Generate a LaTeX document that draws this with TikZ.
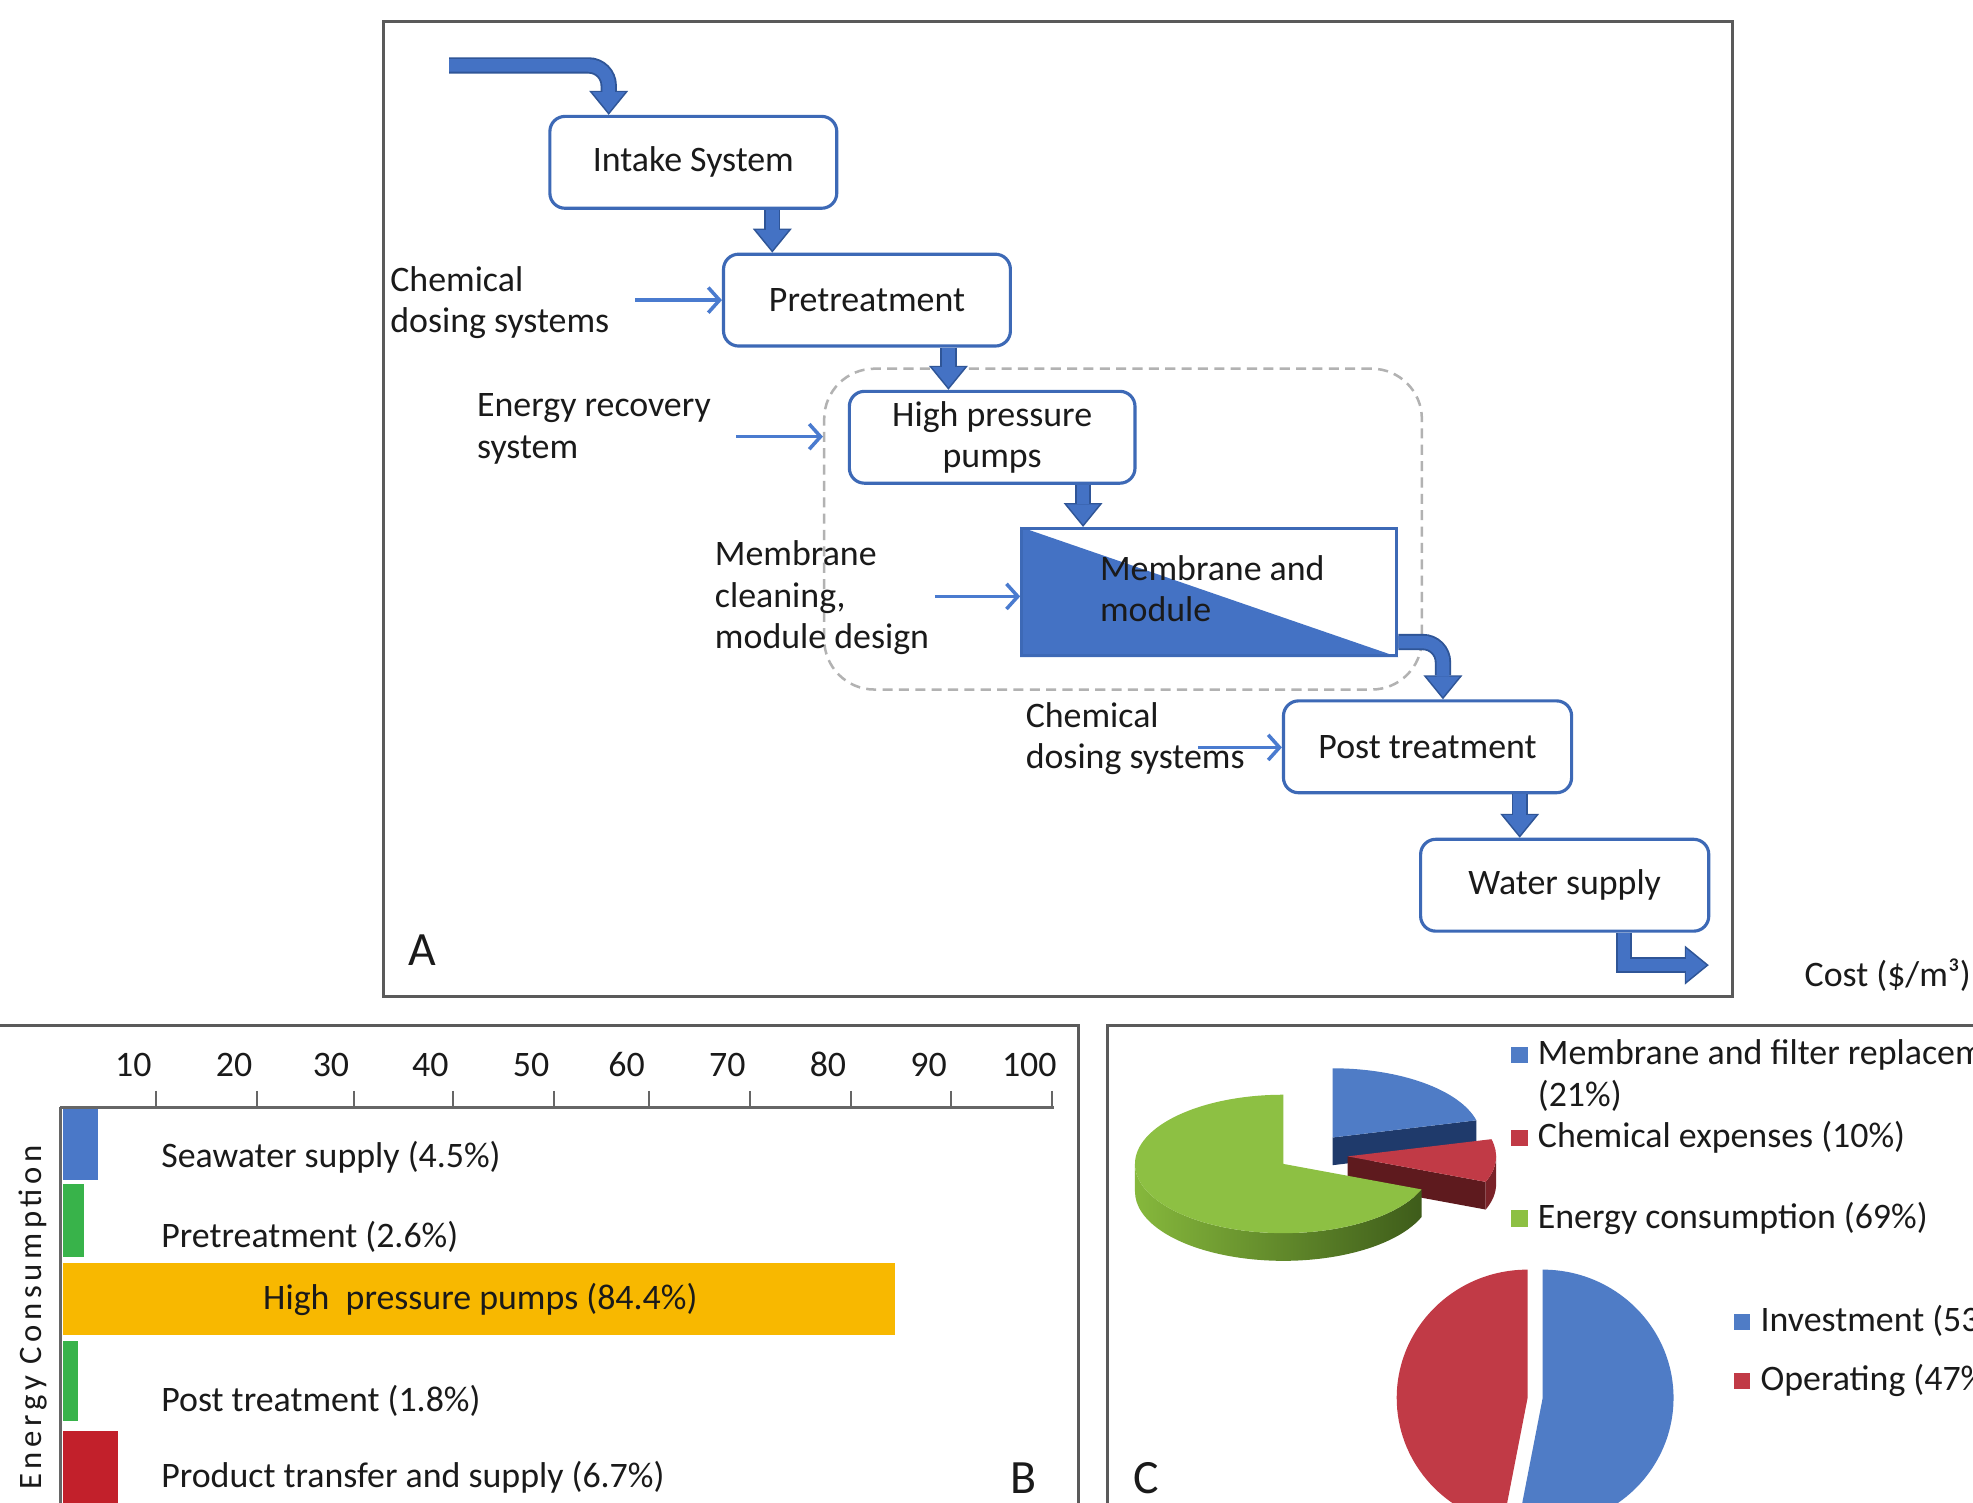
\documentclass[tikz,border=0pt]{standalone}
\usepackage{fontspec}
\setmainfont{Carlito}
\usetikzlibrary{arrows.meta,calc}
\definecolor{bx}{HTML}{3D69B6}
\definecolor{fa}{HTML}{4472C4}
\definecolor{fad}{HTML}{2F5597}
\definecolor{thinc}{HTML}{4A7BCF}
\definecolor{frm}{HTML}{5A5A5A}
\definecolor{txt}{HTML}{1A1A1A}
\definecolor{barblue}{HTML}{4A78C8}
\definecolor{bargreen}{HTML}{38B34A}
\definecolor{barorange}{HTML}{F8B800}
\definecolor{barred}{HTML}{C2202B}
\definecolor{pblue}{HTML}{4F7CC6}
\definecolor{pnavy}{HTML}{1F3A6B}
\definecolor{pred}{HTML}{C13A46}
\definecolor{pdred}{HTML}{5E1A1E}
\definecolor{pdred2}{HTML}{7A2228}
\definecolor{pgreen}{HTML}{8DC043}
\definecolor{pgreenL}{HTML}{86B83C}
\definecolor{pgreenD}{HTML}{3E5C1A}
\newcommand\fsz{\fontsize{28.5}{33}\selectfont}
\newcommand\fbig{\fontsize{38}{44}\selectfont}
\tikzset{
  fbox/.style={draw=bx, line width=2.5pt, rounded corners=12pt, minimum width=228pt,
    minimum height=73pt, align=center, font=\fsz, text=txt, inner sep=0pt},
  lbl/.style={anchor=west, align=left, font=\fsz, text=txt, inner sep=0pt},
  ctr/.style={font=\fsz, text=txt, inner sep=0pt},
  thinarr/.style={draw=thinc, line width=2.8pt, -{Straight Barb[length=9pt,width=20pt]}},
  fatout/.style={draw=fad, line width=13pt, -{Triangle[length=19pt,width=31pt,line width=0pt]}},
  fatin/.style={draw=fa, line width=10pt, shorten >=2pt, -{Triangle[length=16pt,width=26pt,line width=0pt]}},
  frame/.style={draw=frm, line width=2.5pt},
  axisl/.style={draw=gray!80!black, line width=2pt},
}
\newcommand\fatarr[2][]{\draw[fatout,#1] #2; \draw[fatin,#1] #2;}
\begin{document}
\begin{tikzpicture}[x=1pt,y=-1pt]
\useasboundingbox (0,0) rectangle (1568,1194);
\clip (0,0) rectangle (1568,1194);
\fill[white] (0,0) rectangle (1568,1194);

% ---------------- Panel A ----------------
\node[frame, minimum width=1072pt, minimum height=775pt, inner sep=0pt] (panelA) at (841,404.5) {};
\node[draw=gray!60, line width=2pt, dash pattern=on 8pt off 5pt, rounded corners=40pt,
  minimum width=475pt, minimum height=255pt, inner sep=0pt] (grp) at (892.5,420.5) {};

\node[fbox] (intake) at (551,129) {Intake System};
\node[fbox] (pret) at (689,238.5) {Pretreatment};
\node[fbox, minimum width=227pt] (hpp) at (788.5,347.5) {High pressure\\pumps};
\node[draw=bx, line width=2.5pt, minimum width=298pt, minimum height=101pt, inner sep=0pt] (mem) at (961,470.5) {};
\fill[fa] (mem.north west) -- (mem.south east) -- (mem.south west) -- cycle;
\node[draw=bx, line width=2.5pt, minimum width=298pt, minimum height=101pt, inner sep=0pt] at (mem.center) {};
\node[lbl] (memtxt) at (874,468) {Membrane and\\module};
\node[fbox, minimum width=229pt] (post) at (1134.5,593.5) {Post treatment};
\node[fbox, minimum width=229pt] (water) at (1243.5,703.5) {Water supply};

\node[lbl] (chem1) at (310,240.5) {Chemical\\dosing systems};
\node[lbl] (erec) at (379,341) {Energy recovery\\system};
\node[lbl] (mclean) at (568,475) {Membrane\\cleaning,\\module design};
\node[lbl] (chem2) at (815,587) {Chemical\\dosing systems};
\node[font=\fbig, text=txt, inner sep=0pt] (labA) at (336,755) {A};
\node[lbl] (cost) at (1434,775) {Cost (\$/m³)};

% fat arrows
\coordinate (inStart) at (357,52);
\coordinate (a0) at ([xshift=48pt]intake.north west);
\coordinate (a1) at ([xshift=40pt]pret.north west);
\coordinate (a2) at ([xshift=80pt]hpp.north west);
\coordinate (a3) at ([xshift=50pt]mem.north west);
\coordinate (m1) at ([yshift=12pt]mem.south east);
\coordinate (a4) at ([xshift=128pt]post.north west);
\coordinate (a5) at ([xshift=80pt]water.north west);
\coordinate (w1) at ([xshift=163pt]water.south west);
\coordinate (outEnd) at (1358,767);
\fatarr[rounded corners=16pt]{(inStart) -| (a0)}
\fatarr{(intake.south -| a1) -- (a1)}
\fatarr{(pret.south -| a2) -- (a2)}
\fatarr{(hpp.south -| a3) -- (a3)}
\fatarr[rounded corners=16pt]{(m1) -| (a4)}
\fatarr{(post.south -| a5) -- (a5)}
\fatarr{(w1) |- (outEnd)}

% thin arrows
\coordinate (t1) at (505,238.5);
\coordinate (t2) at (585,347);
\coordinate (t3) at (743,474);
\coordinate (t4) at (952,594);
\draw[thinarr] (t1) -- (pret.west);
\draw[thinarr] (t2) -- (t2 -| grp.west);
\draw[thinarr] (t3) -- (t3 -| mem.west);
\draw[thinarr] (t4) -- (t4 -| post.west);

% ---------------- Panel B ----------------
\draw[frame] (0,815) -- (857,815) -- (857,1200);
\draw[axisl] (48,880) -- (838,880);
\draw[axisl] (48,880) -- (48,1200);
\foreach \t/\l in {124/10,204/20,281/30,360/40,440/50,516/60,596/70,676/80,756/90,836/100}{
  \draw[axisl, line width=1.5pt] (\t,867) -- (\t,880);
  \node[ctr] (tk\l) at (\t-18,846) {\l};
}
\fill[barblue] (50,881) rectangle (78,938);
\fill[bargreen] (50,941) rectangle (67,999);
\fill[barorange] (50,1004) rectangle (711,1061);
\fill[bargreen] (50,1066) rectangle (62,1129);
\fill[barred] (50,1137) rectangle (94,1200);
\node[lbl] (b1) at (128,920) {Seawater supply (4.5\%)};
\node[lbl] (b2) at (128,983) {Pretreatment (2.6\%)};
\node[lbl] (b3) at (209,1033) {High\ \ pressure pumps (84.4\%)};
\node[lbl] (b4) at (128,1113) {Post treatment (1.8\%)};
\node[lbl] (b5) at (128,1174) {Product transfer and supply (6.7\%)};
\node[rotate=90, text=txt, inner sep=0pt,
  font=\fontsize{26}{30}\selectfont\addfontfeatures{LetterSpace=14}] (ylab) at (26,1047) {Energy Consumption};
\node[font=\fbig, text=txt, inner sep=0pt] (labB) at (813,1175) {B};

% ---------------- Panel C ----------------
\draw[frame] (880,1200) -- (880,815) -- (1570,815);
\node[font=\fbig, text=txt, inner sep=0pt] (labC) at (911,1175) {C};

\begin{scope}[shift={(1020,925)}, yscale=-1]
  \coordinate (bA) at (39,21);
  \coordinate (rA) at (51,6);
  % blue slice
  \fill[pnavy] (bA) -- ++(14.4:118 and 55) -- ++(0,-22) -- ++(194.4:118 and 55) -- cycle;
  \fill[pblue] (bA) -- ++(14.4:118 and 55) arc[start angle=14.4, end angle=90, x radius=118, y radius=55] -- cycle;
  % red slice
  \fill[pdred] (rA) -- ++(338.4:118 and 55) -- ++(0,-22) -- ++(158.4:118 and 55) -- cycle;
  \fill[pdred2] ($(rA)+(338.4:118 and 55)$) arc[start angle=338.4, end angle=360, x radius=118, y radius=55]
     -- ++(0,-22) arc[start angle=360, end angle=338.4, x radius=118, y radius=55] -- cycle;
  \fill[pred] (rA) -- ++(338.4:118 and 55) arc[start angle=338.4, end angle=374.4, x radius=118, y radius=55] -- cycle;
  % green slice
  \shade[left color=pgreenL, right color=pgreenD] (180:118 and 55) arc[start angle=180, end angle=338.4, x radius=118, y radius=55]
     -- ++(0,-22) arc[start angle=338.4, end angle=180, x radius=118, y radius=55] -- cycle;
  \fill[pgreen] (0,0) -- (90:118 and 55) arc[start angle=90, end angle=338.4, x radius=118, y radius=55] -- cycle;
\end{scope}

\begin{scope}[shift={(1220,1111)}, yscale=-1]
  \fill[pblue] (6,0) -- ++(90:104 and 102) arc[start angle=90, end angle=-100.8, x radius=104, y radius=102] -- cycle;
  \fill[pred] (-6,0) -- ++(90:104 and 102) arc[start angle=90, end angle=259.2, x radius=104, y radius=102] -- cycle;
\end{scope}

% legends
\fill[pblue] (1201,832) rectangle (1214,845);
\fill[pred] (1201,898) rectangle (1214,911);
\fill[pgreen] (1201,962) rectangle (1214,975);
\node[lbl] (lg1) at (1222,838) {Membrane and filter replacement};
\node[lbl] (lg1b) at (1222,871) {(21\%)};
\node[lbl] (lg2) at (1222,904) {Chemical expenses (10\%)};
\node[lbl] (lg3) at (1222,968) {Energy consumption (69\%)};
\fill[pblue] (1378,1044) rectangle (1391,1057);
\fill[pred] (1378,1091) rectangle (1391,1104);
\node[lbl] (lg4) at (1399,1050) {Investment (53\%)};
\node[lbl] (lg5) at (1399,1097) {Operating (47\%)};
\end{tikzpicture}
\end{document}
